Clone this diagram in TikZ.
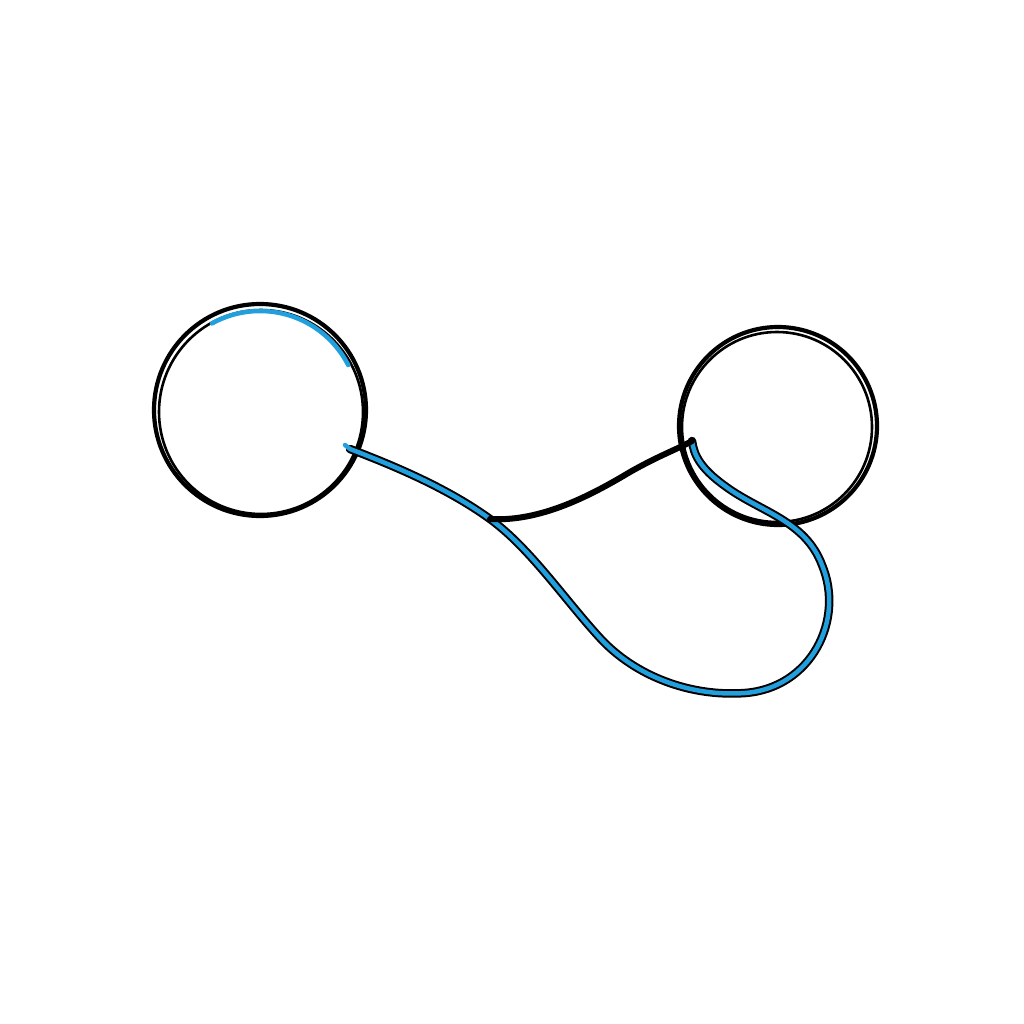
\documentclass[tikz,border=0pt]{standalone}
\definecolor{skyblue}{RGB}{34,160,222}
\begin{document}
\begin{tikzpicture}[x=1pt,y=-1pt,
  ring/.style={circle,draw=black,line width=4.2pt,inner sep=0pt},
  ringtwo/.style={draw=black,line width=2.6pt},
  ink/.style={draw=black,line width=8.5pt,line cap=round},
  blueink/.style={draw=skyblue,line width=4.5pt,line cap=round},
  blackink/.style={draw=black,line width=6pt,line cap=round}]
\useasboundingbox[fill=white] (0,0) rectangle (1024,1024);
% circles
\node[ring,minimum size=212pt] (L) at (260,410) {};
\node[ring,minimum size=198pt] (R) at (778,426) {};
\draw[ringtwo] (261,412) circle[radius=102];
\draw[ringtwo] (777,427) circle[radius=95];
% blue arc inside left circle
\draw[blueink,line width=4.5pt] (260,410) ++(-119:99) arc[start angle=-119,end angle=-27,radius=99];
% main loop
\coordinate (s) at (350,449);
\coordinate (m) at (490,519);
\coordinate (b) at (745,693);
\coordinate (e) at (692,441);
\def\mainloop{(s) .. controls (400,468) and (450,490) .. (m)
  .. controls (530,548) and (565,600) .. (600,638)
  .. controls (635,676) and (690,697) .. (b)
  .. controls (811,688) and (845,620) .. (822,565)
  .. controls (805,520) and (760,512) .. (725,486)
  .. controls (700,468) and (694,455) .. (e)}
\draw[ink] \mainloop;
\draw[blueink] (345,445) -- \mainloop;
% short black connector
\draw[blackink] (m) .. controls (540,522) and (590,496) .. (630,472)
  .. controls (660,455) and (680,448) .. (e);
\end{tikzpicture}
\end{document}
